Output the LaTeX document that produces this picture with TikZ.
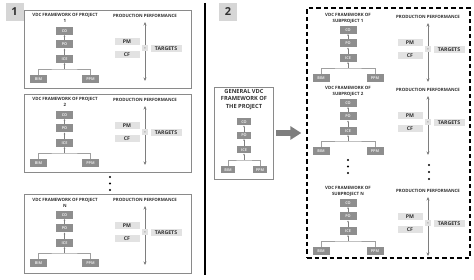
\documentclass[tikz,border=0pt]{standalone}
\usepackage{fontspec}
\setmainfont{Open Sans}
\usepackage{tikz}
\usetikzlibrary{positioning, arrows.meta}
\definecolor{boxgray}{HTML}{8E8E8E}
\definecolor{boxtext}{HTML}{E6E6E6}
\definecolor{paleGray}{HTML}{E2E2E2}
\definecolor{numgray}{HTML}{D6D6D6}
\definecolor{framegray}{HTML}{8A8A8A}
\definecolor{arrgray}{HTML}{7E7E7E}
\definecolor{linegray}{HTML}{A0A0A0}
\definecolor{darktext}{HTML}{303030}

\begin{document}
\begin{tikzpicture}[
  x=1pt, y=-1pt,
  every node/.style={font=\bfseries},
  num/.style={fill=numgray, minimum width=18, minimum height=18, inner sep=0,
              text=darktext, font=\fontsize{11}{11}\selectfont\bfseries},
  frame/.style={draw=framegray, line width=0.7, inner sep=0,
                minimum width=167, minimum height=78},
  ttl/.style={align=center, inner sep=0, text=darktext,
              font=\fontsize{4.4}{6}\selectfont\bfseries},
  blk/.style={fill=boxgray, text=boxtext, minimum width=17, minimum height=8,
              inner sep=0, font=\fontsize{3.8}{4}\selectfont\bfseries},
  lbox/.style={fill=paleGray, text=darktext, minimum width=25, minimum height=7,
               inner sep=0, font=\fontsize{5.2}{5}\selectfont\bfseries},
  midbox/.style={fill=paleGray, text=darktext, minimum size=6, inner sep=0,
                 font=\fontsize{4}{4}\selectfont\bfseries},
  up/.style={draw=arrgray, line width=0.4, -{Stealth[length=1.6pt, width=1.8pt]}},
  tree/.style={draw=linegray, line width=0.5},
  perfline/.style={draw=arrgray, line width=0.8,
                {Stealth[length=3.5pt, width=3pt]}-{Stealth[length=3.5pt, width=3pt]}},
  dot/.style={circle, fill=black, inner sep=0, minimum size=2.4},
  bigarrow/.style={draw=arrgray, line width=6, -{Triangle[length=11pt, width=13pt]},
                   shorten <=3, shorten >=5},
  pics/vdc/.style={code={
    \node[blk] (-co) at (0,0) {CO};
    \node[blk] (-po) at (0,13.5) {PO};
    \node[blk] (-ice) at (0,28) {ICE};
    \node[blk] (-bim) at (-#1,48) {BIM};
    \node[blk] (-ppm) at (#1,48) {PPM};
    \coordinate (-br) at (0,38);
    \draw[tree] (-bim.north) |- (-br) -| (-ppm.north);
    \draw[up] (-br) -- (-ice);
    \draw[up] (-ice) -- (-po);
    \draw[up] (-po) -- (-co);
  }},
  pics/perf/.style={code={
    \node[ttl] (-ttl) at (0,0) {PRODUCTION PERFORMANCE};
    \coordinate (-top) at (0,6);
    \coordinate (-bot) at (0,65);
    \draw[perfline] (-top) -- (-bot);
    \node[lbox] (-pm) at (-18,26) {PM};
    \node[lbox] (-cf) at (-18,39) {CF};
    \node[midbox] (-mid) at (0,32.5) {-};
    \node[lbox, minimum width=31] (-tgt) at (21,32.5) {TARGETS};
  }},
]
  \useasboundingbox (0,0) rectangle (474,280);

  % panel numbers
  \node[num] (n1) at (14.5,12) {1};
  \node[num] (n2) at (228,12) {2};

  % separator
  \coordinate (s1) at (205,3);
  \coordinate (s2) at (205,275);
  \draw[line width=1.2] (s1) -- (s2);

  % panel 1: one framework per project
  \node[frame] (f1) at (107.5,49) {};
  \node[ttl] (t1) at (65,18) {VDC FRAMEWORK OF PROJECT\\1};
  \pic (a1) at (64.5,31) {vdc=26};
  \pic (p1) at (145,16) {perf};

  \node[frame] (f2) at (107.5,133) {};
  \node[ttl] (t2) at (65,102) {VDC FRAMEWORK OF PROJECT\\2};
  \pic (a2) at (64.5,115) {vdc=26};
  \pic (p2) at (145,100) {perf};

  \node[dot] (d1) at (110,177) {};
  \node[dot] (d2) at (110,183.5) {};
  \node[dot] (d3) at (110,190) {};

  \node[frame, minimum height=79] (f3) at (107.5,233.5) {};
  \node[ttl] (t3) at (65,202.5) {VDC FRAMEWORK OF PROJECT\\N};
  \pic (a3) at (64.5,215) {vdc=26};
  \pic (p3) at (145,200) {perf};

  % panel 2: general framework
  \node[frame, minimum width=59, minimum height=92] (gbox) at (243.5,133) {};
  \node[ttl, font=\fontsize{5.7}{7.5}\selectfont\bfseries] (gttl) at (244,99.5)
    {GENERAL VDC\\FRAMEWORK OF\\THE PROJECT};
  \pic[blk/.append style={minimum width=14, minimum height=7}] (g) at (244,122) {vdc=16};

  % panel 2: subprojects
  \node[draw=black, line width=1.3, dash pattern=on 4.5pt off 3pt, inner sep=0,
        minimum width=163, minimum height=250] (dash) at (388.5,133) {};
  \draw[bigarrow] (gbox.east) -- (dash.west);

  \node[ttl] (u1) at (348,18) {VDC FRAMEWORK OF\\SUBPROJECT 1};
  \pic (b1) at (348,30) {vdc=27};
  \pic (q1) at (428,17) {perf};

  \node[ttl] (u2) at (348,91) {VDC FRAMEWORK OF\\SUBPROJECT 2};
  \pic (b2) at (348,103) {vdc=27};
  \pic (q2) at (428,90) {perf};

  \node[dot] (e1) at (348,160) {};
  \node[dot] (e2) at (348,166.5) {};
  \node[dot] (e3) at (348,173) {};
  \node[dot] (e4) at (429,165) {};
  \node[dot] (e5) at (429,172) {};
  \node[dot] (e6) at (429,179) {};

  \node[ttl] (u3) at (348,191) {VDC FRAMEWORK OF\\SUBPROJECT N};
  \pic (b3) at (348,203) {vdc=27};
  \pic (q3) at (428,191) {perf};
\end{tikzpicture}
\end{document}
